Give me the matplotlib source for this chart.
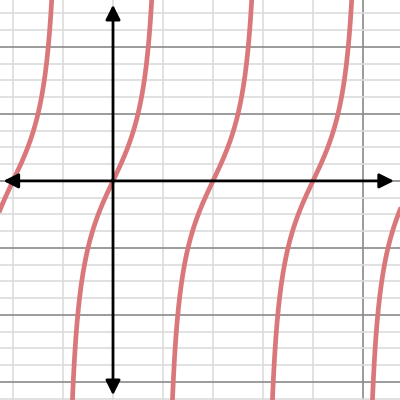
import numpy as np
import matplotlib
matplotlib.use("Agg")
import matplotlib.pyplot as plt

x_range = [-1.13 * np.pi, 2.87 * np.pi]
y_range = [-3.27, 2.70]
curve_color = "#d9777a"

fig = plt.figure(figsize=(4, 4), dpi=100)
ax = fig.add_axes([0, 0, 1, 1])
ax.set_xlim(*x_range)
ax.set_ylim(*y_range)
ax.axis("off")

for k in range(-4, 8):
    xv = k * np.pi / 2
    major = (k == 5)
    ax.axvline(xv, color="#8a8a8a" if major else "#dcdcdc", lw=1.2, zorder=0)
for k in range(-16, 16):
    yv = k * 0.25
    major = (k % 4 == 0)
    ax.axhline(yv, color="#8a8a8a" if major else "#dcdcdc", lw=1.2, zorder=0)

for n in range(-2, 4):
    c = n * np.pi
    xs = np.linspace(c - np.pi / 2 + 1e-3, c + np.pi / 2 - 1e-3, 800)
    ax.plot(xs, np.tan(xs), color=curve_color, lw=3.4, zorder=2, solid_capstyle="butt")

kw = dict(arrowstyle="<|-|>", color="black", lw=2, mutation_scale=22)
ax.annotate("", xy=(x_range[0] + 0.02, 0), xytext=(x_range[1] - 0.1, 0), arrowprops=kw, zorder=3)
ax.annotate("", xy=(0, y_range[0] + 0.03), xytext=(0, y_range[1] - 0.03), arrowprops=kw, zorder=3)

fig.savefig("out.png", dpi=100)
